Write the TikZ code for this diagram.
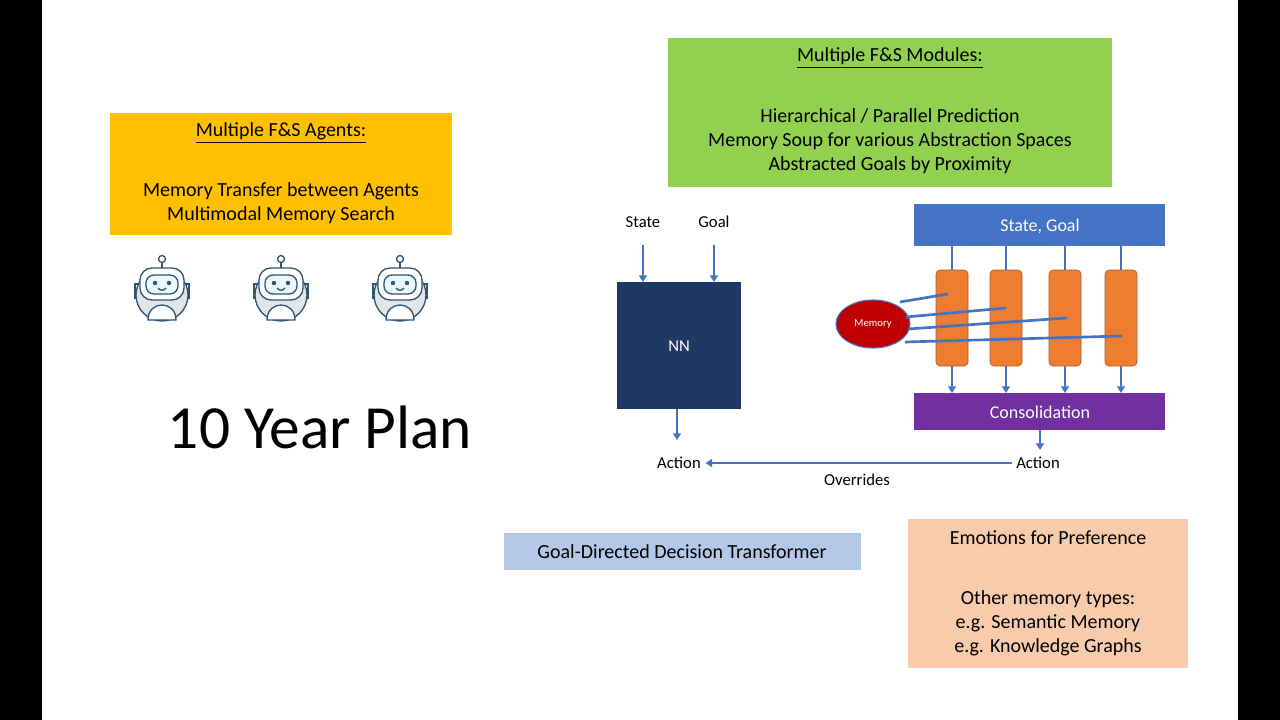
\documentclass[tikz,border=0pt]{standalone}
\usepackage{fontspec}
\setmainfont{Carlito}
\usetikzlibrary{arrows.meta}
\definecolor{bl}{HTML}{4472C4}
\definecolor{rb}{HTML}{2F5570}
\definecolor{cyel}{RGB}{255,192,0}
\definecolor{cgrn}{RGB}{146,208,80}
\definecolor{cnav}{RGB}{31,56,100}
\definecolor{cpur}{RGB}{112,48,160}
\definecolor{corg}{RGB}{237,125,49}
\definecolor{corgd}{RGB}{180,90,40}
\definecolor{cred}{RGB}{192,0,0}
\definecolor{clbl}{RGB}{180,199,231}
\definecolor{cpea}{RGB}{248,203,173}
\begin{document}
\begin{tikzpicture}[x=0.75pt,y=-0.75pt,
  txt/.style={font=\fontsize{15}{18}\selectfont,align=center},
  conn/.style={bl,line width=1.2pt},
  arr/.style={conn,-{Triangle[length=5pt,width=6pt]}},
  robot/.pic={
    \fill[rb!15] (-22,8) rectangle (22,22);
    \draw[rb,line width=1pt,fill=white] (0,-31) circle (3.5);
    \draw[rb,line width=1pt] (0,-27.5) -- (0,-22);
    \draw[rb,line width=1pt,fill=white] (-27,-6) rectangle (27,8);
    \draw[rb,line width=1pt,fill=rb!15] (0,5) circle (26);
    \draw[rb,line width=1pt,fill=white] (-14,30) .. controls (-14,10) and (14,10) .. (14,30) -- cycle;
    \draw[rb,line width=1pt,fill=white,rounded corners=9pt] (-22,-22) rectangle (22,10);
    \draw[rb,line width=1pt,fill=cyan!8,rounded corners=6pt] (-16,-15) rectangle (16,4);
    \fill[rb] (-7,-7) circle (2.2) (7,-7) circle (2.2);
    \draw[rb,line width=1pt] (-4,-2) .. controls (-2,1) and (2,1) .. (4,-2);
  }]
\useasboundingbox (0,0) rectangle (1280,720);
\fill[black] (0,0) rectangle (42,720);
\fill[black] (1238,0) rectangle (1280,720);
% agents box
\fill[cyel] (110,113) rectangle (452,235);
\node[txt] (agt) at (281,133) {\underline{Multiple F\&S Agents:}};
\node[txt] (agb) at (281,203) {Memory Transfer between Agents\\Multimodal Memory Search};
\pic at (162,290) {robot};
\pic at (281,290) {robot};
\pic at (400,290) {robot};
\node[font=\fontsize{46}{50}\selectfont] (plan) at (320,427) {10 Year Plan};
% modules box
\fill[cgrn] (668,38) rectangle (1112,187);
\node[txt] (mt) at (890,58) {\underline{Multiple F\&S Modules:}};
\node[txt] (mb) at (890,141) {Hierarchical / Parallel Prediction\\Memory Soup for various Abstraction Spaces\\Abstracted Goals by Proximity};
% NN part
\node[font=\fontsize{12.5}{14}\selectfont] (st) at (643,222) {State};
\node[font=\fontsize{12.5}{14}\selectfont] (go) at (714,222) {Goal};
\fill[cnav] (617,282) rectangle (741,409);
\node[white,font=\fontsize{12.5}{14}\selectfont] (nn) at (679,346) {NN};
\coordinate (nnt1) at (643,282); \coordinate (nnt2) at (714,282);
\draw[arr] (643,245) -- (nnt1);
\draw[arr] (714,245) -- (nnt2);
\node[font=\fontsize{12.5}{14}\selectfont] (a1) at (679,463) {Action};
\draw[arr] (677,409) -- (677,440);
% modules diagram
\fill[bl] (914,204) rectangle (1165,246);
\node[white,font=\fontsize{13.5}{16}\selectfont] (sg) at (1040,226) {State, Goal};
\fill[cpur] (914,393) rectangle (1165,430);
\node[white,font=\fontsize{13.5}{16}\selectfont] (cons) at (1040,412) {Consolidation};
\foreach \x/\n in {952/1,1006/2,1065/3,1121/4}{
  \draw[conn] (\x,246) -- (\x,270);
  \draw[arr] (\x,366) -- (\x,393);
  \filldraw[fill=corg,draw=corgd,rounded corners=3pt,line width=0.5pt] (\x-16,270) rectangle (\x+16,366);
}
\filldraw[fill=cred,draw=bl,line width=0.8pt] (873,324) ellipse (37 and 24);
\node[white,font=\fontsize{8}{9}\selectfont] (mem) at (873,324) {Memory};
\draw[conn,line width=2pt] (900,302) -- (948,294);
\draw[conn,line width=2pt] (906,317) -- (1006,308);
\draw[conn,line width=2pt] (908,329) -- (1067,318);
\draw[conn,line width=2pt] (905,342) -- (1122,336);
\node[font=\fontsize{12.5}{14}\selectfont] (a2) at (1038,463) {Action};
\draw[arr] (1040,430) -- (1040,450);
\draw[arr] (a2.west) -- (a1.east);
\node[font=\fontsize{12.5}{14}\selectfont] (ov) at (857,480) {Overrides};
% bottom boxes
\fill[clbl] (504,533) rectangle (861,570);
\node[txt] (gd) at (682,552) {Goal-Directed Decision Transformer};
\fill[cpea] (908,519) rectangle (1188,668);
\node[txt] (em) at (1048,538) {Emotions for Preference};
\node[txt] (om) at (1048,623) {Other memory types:\\e.g. Semantic Memory\\e.g. Knowledge Graphs};
\end{tikzpicture}
\end{document}
